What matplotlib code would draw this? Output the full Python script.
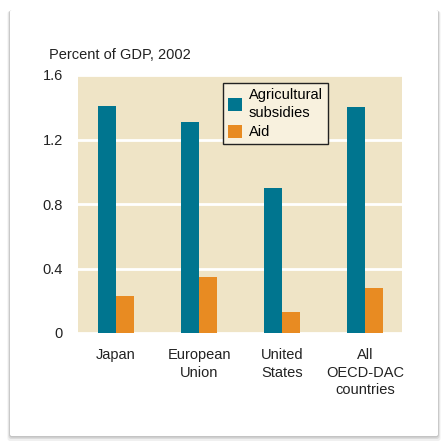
import matplotlib.pyplot as plt
import numpy as np
from matplotlib.patches import FancyBboxPatch

# data
countries = ['Japan', 'European\nUnion', 'United\nStates', 'All\nOECD-DAC\ncountries']
subsidies = [1.41, 1.31, 0.90, 1.40]
aid = [0.23, 0.35, 0.13, 0.28]
yticks = [0, 0.4, 0.8, 1.2, 1.6]
ytick_labels = ['0', '0.4', '0.8', '1.2', '1.6']

blue = '#00758f'
orange = '#e88b22'
bg = '#efe4c6'

plt.rcParams['font.family'] = ['Liberation Sans', 'DejaVu Sans']

fig = plt.figure(figsize=(4.48, 4.46), dpi=100)
fig.patch.set_facecolor('white')

# card with a soft shadow
for off, col in [(5, '#f0f0f0'), (3, '#dcdcdc'), (1.5, '#c4c4c4')]:
    sh = FancyBboxPatch(((10 - off * 0.5) / 448, (10 - off) / 446), (428 + off) / 448, (426 + off * 0.8) / 446,
                        boxstyle='round,pad=0.0,rounding_size=0.006', transform=fig.transFigure,
                        facecolor=col, edgecolor='none', zorder=-3)
    fig.patches.append(sh)
card = FancyBboxPatch((10 / 448, 10 / 446), 428 / 448, 426 / 446,
                      boxstyle='round,pad=0.0,rounding_size=0.004', transform=fig.transFigure,
                      facecolor='white', edgecolor='none', zorder=-2)
fig.patches.append(card)

ax = fig.add_axes([78 / 448, 1 - 333 / 446, 324 / 448, 258 / 446])
ax.set_facecolor(bg)

x = np.arange(len(countries))
w = 0.215
ax.bar(x - w / 2, subsidies, w, color=blue, label='Agricultural\nsubsidies', zorder=3)
ax.bar(x + w / 2, aid, w, color=orange, label='Aid', zorder=3)

ax.set_xlim(-0.458, 3.446)
ax.set_ylim(0, 1.6)
ax.set_yticks(yticks)
ax.set_yticklabels(ytick_labels)
ax.set_xticks(x)
ax.set_xticklabels(countries, linespacing=1.3)
ax.grid(axis='y', color='white', linewidth=2, zorder=1)
ax.tick_params(length=0, labelsize=10.5, colors='#222222')
ax.tick_params(axis='x', pad=11)
ax.tick_params(axis='y', pad=11)
for s in ax.spines.values():
    s.set_visible(False)

fig.text(49 / 448, 1 - 55 / 446, 'Percent of GDP, 2002', fontsize=10.5, color='#222222',
         va='center', ha='left')

leg = ax.legend(loc='upper left', bbox_to_anchor=(223 / 448, 1 - 83 / 446),
                bbox_transform=fig.transFigure, fontsize=10.5, frameon=True,
                fancybox=False, handlelength=0.95, handleheight=0.95, handletextpad=0.45,
                labelspacing=0.35, borderpad=0.35, borderaxespad=0)
leg.get_frame().set_edgecolor('#222222')
leg.get_frame().set_facecolor('#f8f1de')
leg.get_frame().set_linewidth(1.0)
leg.get_frame().set_alpha(1)
for t in leg.get_texts():
    t.set_linespacing(1.35)

fig.savefig('out.png', dpi=100)
